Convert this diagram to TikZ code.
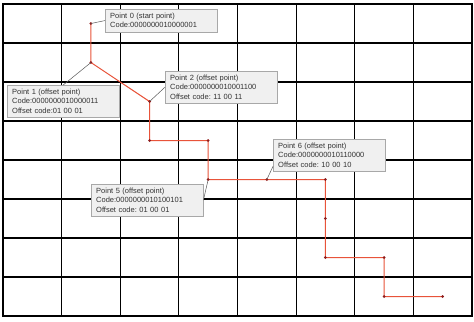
\documentclass[tikz,border=0pt]{standalone}
\usepackage{fontspec}
\setmainfont{Liberation Sans}
\frenchspacing
\usetikzlibrary{positioning,calc}
\definecolor{Route}{HTML}{E8533A}
\definecolor{Knot}{HTML}{8E1B1B}
\definecolor{Paper}{HTML}{F0F0F0}
\definecolor{Edge}{HTML}{A8A8A8}
\definecolor{Ink}{HTML}{333333}

\begin{document}
\begin{tikzpicture}[x=58.625pt,y=-39pt,
    tag/.style={fill=Paper,draw=Edge,anchor=north west,text width=102pt,inner xsep=5pt,inner ysep=4pt,align=left,font=\fontsize{7.5}{9.2}\selectfont,text=Ink},
    route/.style={Route,line width=1pt},lead/.style={draw=black!65,line width=.5pt}]
    \useasboundingbox (-0.051,-0.103) rectangle (8.034,8.128);
    \fill[white] (-0.051,-0.103) rectangle (8.034,8.128);
    \foreach \k in {1,...,7} {\draw[line width=1.2pt] (\k,0)--(\k,8);\draw[line width=1.2pt] (0,\k)--(8,\k);}
    \draw[line width=1.4pt] (0,0) rectangle (8,8);
    % cell centres of the route
    \foreach \c/\r [count=\i from 0] in {2/1,2/2,3/3,3/4,4/4,4/5,5/5,6/5,6/6,6/7,7/7,7/8,8/8}
      \coordinate (p\i) at (\c-.5,\r-.5);
    \draw[route] (p0)--(p1)--(p2)--(p3)--(p4)--(p5)--(p6)--(p7)--(p8)--(p9)--(p10)--(p11)--(p12);
    \foreach \i in {0,...,12} \fill[Knot] (p\i) circle (1.5pt);
    \node[tag] (b0) at (1.740,0.128) {Point 0 (start point)\\Code:0000000010000001};
    \node[tag] (b1) at (0.068,2.077) {Point 1 (offset point)\\Code:0000000010000011\\Offset code:01 00 01};
    \node[tag] (b2) at (2.763,1.718) {Point 2 (offset point)\\Code:0000000010001100\\Offset code: 11 00 11};
    \node[tag] (b6) at (4.606,3.462) {Point 6 (offset point)\\Code:0000000010110000\\Offset code: 10 00 10};
    \node[tag] (b5) at (1.501,4.615) {Point 5 (offset point)\\Code:0000000010100101\\Offset code: 01 00 01};
    \draw[lead] (p0)--(b0.west);\draw[lead] (p1)--(b1.north);\draw[lead] (p2)--(b2.west);
    \draw[lead] (p6)--([yshift=5pt]b6.south west);\draw[lead] (p5)--(b5.east);
  \end{tikzpicture}
\end{document}
